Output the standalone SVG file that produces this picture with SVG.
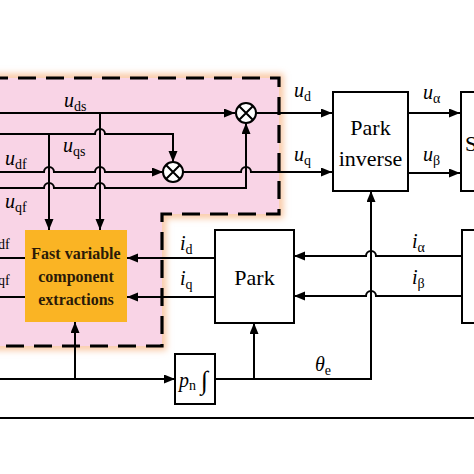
<svg xmlns="http://www.w3.org/2000/svg" width="474" height="474" viewBox="0 0 474 474">
<defs>
<marker id="ah" markerWidth="12" markerHeight="10" refX="11" refY="4.5" orient="auto" markerUnits="userSpaceOnUse"><path d="M0,0 L11,4.5 L0,9 z" fill="#000"/></marker>
<filter id="glow" x="-20%" y="-20%" width="140%" height="140%"><feGaussianBlur stdDeviation="3"/></filter>
<style>
.ln{fill:none;stroke:#000;stroke-width:2}
.box{fill:#fff;stroke:#000;stroke-width:2}
.lbl{font-family:"Liberation Serif",serif;font-size:20px;font-style:italic;fill:#000}
.sub{font-style:normal;font-size:14px}
.big{font-family:"Liberation Serif",serif;font-size:22px;text-anchor:middle;fill:#000}
.fast{font-family:"Liberation Serif",serif;font-size:16px;font-weight:bold;text-anchor:middle;fill:#2a1a08}
.mx{stroke:#000;stroke-width:2}
</style>
</defs>
<rect width="474" height="474" fill="#fff"/>
<g id="region">
<path d="M-10,78 H279 V214 H162 V346 H-10 Z" fill="none" stroke="#f9c9a6" stroke-width="9" filter="url(#glow)"/>
<path d="M-10,78 H279 V214 H162 V346 H-10 Z" fill="#f9d4e6"/>
<path d="M-10,78 H279 V214 H162 V346 H-10 Z" fill="none" stroke="#000" stroke-width="3.2" stroke-dasharray="18 10"/>
</g>
<g id="connectors">
<path class="ln" d="M-2,113 H235" marker-end="url(#ah)"/>
<path class="ln" d="M100,113 V230" marker-end="url(#ah)"/>
<path class="ln" d="M-2,134 H95 A5,5 0 0 1 105,134 H173 V162" marker-end="url(#ah)"/>
<path class="ln" d="M49,134 V230" marker-end="url(#ah)"/>
<path class="ln" d="M-2,172 H44 A5,5 0 0 1 54,172 H95 A5,5 0 0 1 105,172 H163" marker-end="url(#ah)"/>
<path class="ln" d="M-2,188 H44 A5,5 0 0 1 54,188 H95 A5,5 0 0 1 105,188 H246 V123" marker-end="url(#ah)"/>
<path class="ln" d="M183,172 H241 A5,5 0 0 1 251,172 H332" marker-end="url(#ah)"/>
<path class="ln" d="M256,113 H332" marker-end="url(#ah)"/>
<path class="ln" d="M408,113 H460" marker-end="url(#ah)"/>
<path class="ln" d="M408,173 H460" marker-end="url(#ah)"/>
<path class="ln" d="M462,256 H376 A5,5 0 0 0 366,256 H294" marker-end="url(#ah)"/>
<path class="ln" d="M462,296 H376 A5,5 0 0 0 366,296 H294" marker-end="url(#ah)"/>
<path class="ln" d="M215,258 H127" marker-end="url(#ah)"/>
<path class="ln" d="M215,297 H127" marker-end="url(#ah)"/>
<path class="ln" d="M25,258 H-2 M25,297 H-2"/>
<path class="ln" d="M215,379 H371 V191" marker-end="url(#ah)"/>
<path class="ln" d="M254,379 V323" marker-end="url(#ah)"/>
<path class="ln" d="M-2,379 H175" marker-end="url(#ah)"/>
<path class="ln" d="M75,379 V322" marker-end="url(#ah)"/>
<path class="ln" d="M0,418 H474"/>
</g>
<g id="labels">
<text class="lbl" x="64" y="107">u<tspan class="sub" dy="4">ds</tspan></text>
<text class="lbl" x="63" y="152">u<tspan class="sub" dy="4">qs</tspan></text>
<text class="lbl" x="5" y="165">u<tspan class="sub" dy="4">df</tspan></text>
<text class="lbl" x="5" y="208">u<tspan class="sub" dy="4">qf</tspan></text>
<text class="lbl" x="-12" y="245">u<tspan class="sub" dy="4">df</tspan></text>
<text class="lbl" x="-12" y="281">u<tspan class="sub" dy="4">qf</tspan></text>
<text class="lbl" x="294" y="97">u<tspan class="sub" dy="4">d</tspan></text>
<text class="lbl" x="294" y="161">u<tspan class="sub" dy="4">q</tspan></text>
<text class="lbl" x="423" y="99">u<tspan class="sub" dy="4">α</tspan></text>
<text class="lbl" x="423" y="161">u<tspan class="sub" dy="4">β</tspan></text>
<text class="lbl" x="180" y="250">i<tspan class="sub" dy="4">d</tspan></text>
<text class="lbl" x="180" y="285">i<tspan class="sub" dy="4">q</tspan></text>
<text class="lbl" x="412" y="248">i<tspan class="sub" dy="4">α</tspan></text>
<text class="lbl" x="412" y="284">i<tspan class="sub" dy="4">β</tspan></text>
<text class="lbl" x="315" y="371">θ<tspan class="sub" dy="4">e</tspan></text>
</g>
<g id="mul1">
<circle cx="246" cy="113" r="10" fill="#fff" stroke="#000" stroke-width="2"/>
<path class="mx" d="M239,106 L253,120 M253,106 L239,120"/>
</g>
<g id="mul2">
<circle cx="173" cy="172" r="10" fill="#fff" stroke="#000" stroke-width="2"/>
<path class="mx" d="M166,165 L180,179 M180,165 L166,179"/>
</g>
<g id="park-inverse">
<rect class="box" x="333" y="92" width="75" height="99"/>
<text class="big" x="370.5" y="135">Park</text>
<text class="big" x="370.5" y="166">inverse</text>
</g>
<g id="park">
<rect class="box" x="215" y="230" width="79" height="93"/>
<text class="big" x="254.5" y="285">Park</text>
</g>
<g id="fast">
<rect x="25" y="230" width="102" height="92" fill="#fab424"/>
<text class="fast" x="76" y="259">Fast variable</text>
<text class="fast" x="76" y="282">component</text>
<text class="fast" x="76" y="305">extractions</text>
</g>
<g id="pn">
<rect class="box" x="175" y="354" width="40" height="50"/>
<text class="lbl" x="179" y="387" font-size="21">p<tspan class="sub" dy="3" font-size="14">n</tspan></text>
<text x="201" y="389" font-family="Liberation Serif,serif" font-size="26">∫</text>
</g>
<g id="svpwm">
<rect class="box" x="461" y="92" width="40" height="99"/>
<text x="465" y="151" font-family="Liberation Serif,serif" font-size="22">SVPWM</text>
</g>
<g id="right2">
<rect class="box" x="462" y="230" width="40" height="93"/>
</g>
</svg>
